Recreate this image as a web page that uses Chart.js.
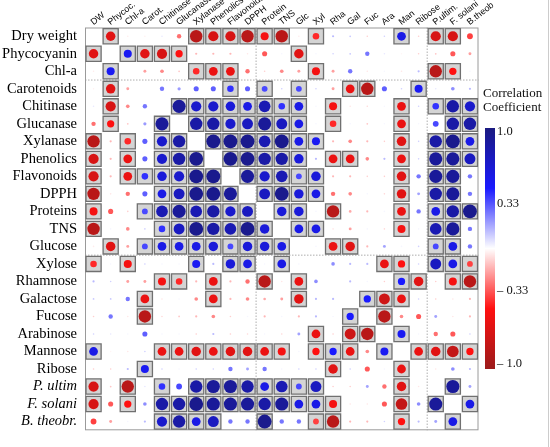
<!DOCTYPE html>
<html>
<head>
<meta charset="utf-8">
<script src="https://cdn.jsdelivr.net/npm/chart.js@4.4.1/dist/chart.umd.min.js"></script>
<style>
  html, body { margin: 0; padding: 0; background: #fff; }
  #wrap { position: relative; width: 550px; height: 447px; overflow: hidden; }
  #chart { position: absolute; left: 0; top: 0; }
  .cb-title { position: absolute; left: 483px; font: 13px "Liberation Serif", serif; color: #111; white-space: nowrap; }
  #cbar { position: absolute; left: 485px; top: 128px; width: 10px; height: 241px; }
  .cb-lbl { position: absolute; left: 497px; font: 12.5px "Liberation Serif", serif; color: #111; white-space: nowrap; }
  #edge { position: absolute; left: 548px; top: 0; width: 1px; height: 447px; background: #ccc; }
</style>
</head>
<body>
<div id="wrap">
  <canvas id="chart" width="550" height="447"></canvas>
  <div class="cb-title" style="top:85px">Correlation</div>
  <div class="cb-title" style="top:99px">Coefficient</div>
  <div id="cbar"></div>
  <div id="edge"></div>
</div>
<script>
// Row / column names
const rowLabels = ['Dry weight', 'Phycocyanin', 'Chl-a', 'Carotenoids', 'Chitinase', 'Glucanase',
  'Xylanase', 'Phenolics', 'Flavonoids', 'DPPH', 'Proteins', 'TNS', 'Glucose', 'Xylose',
  'Rhamnose', 'Galactose', 'Fucose', 'Arabinose', 'Mannose', 'Ribose',
  'P. ultim', 'F. solani', 'B. theobr.'];
const colLabels = ['DW', 'Phycoc.', 'Chl-a', 'Carot.', 'Chitinase', 'Glucanase', 'Xylanase',
  'Phenolics', 'Flavonoids', 'DPPH', 'Protein', 'TNS', 'Glc', 'Xyl', 'Rha', 'Gal', 'Fuc',
  'Ara', 'Man', 'Ribose', 'P.ultim.', 'F. solani', 'B.theob'];

// Upper triangle of the correlation matrix: row i holds columns i+1 .. 22
const upper = [
  [-0.65, -0.04, -0.03, 0.05, -0.3, -0.85, -0.7, -0.7, -0.85, -0.55, -0.85, -0.04, -0.45, 0.15, 0.12, -0.1, 0.1, 0.6, -0.1, -0.7, -0.7, -0.4],
  [0.55, -0.65, -0.7, -0.5, -0.15, -0.15, -0.15, -0.05, -0.35, 0.02, -0.65, 0.02, 0.1, 0.12, 0.3, 0.05, -0.02, -0.1, -0.12, -0.35, -0.2],
  [-0.2, -0.25, -0.12, -0.45, -0.6, -0.6, -0.3, -0.1, -0.25, -0.2, -0.55, -0.2, 0.3, -0.05, 0.02, -0.05, 0.15, -0.85, -0.5, 0.02],
  [0.3, 0.22, 0.35, 0.35, 0.45, 0.35, 0.4, 0.1, 0.4, 0.1, -0.2, -0.6, -0.85, 0.35, 0.1, 0.55, 0.05, 0.25, 0.15],
  [0.9, 0.7, 0.7, 0.65, 0.6, 0.8, 0.45, 0.6, 0.02, -0.55, -0.05, -0.08, 0.02, -0.6, 0.1, 0.45, 0.85, 0.7],
  [0.85, 0.85, 0.7, 0.75, 0.9, 0.75, 0.6, 0.02, -0.45, 0.02, -0.12, 0.02, -0.6, 0.02, 0.4, 0.85, 0.85],
  [0.95, 0.95, 0.95, 0.8, 0.95, 0.6, 0.55, -0.15, -0.25, -0.15, -0.1, -0.65, 0.1, 0.85, 0.95, 0.6],
  [0.95, 0.95, 0.85, 0.85, 0.65, 0.15, -0.6, -0.6, -0.25, 0.15, -0.6, 0.1, 0.9, 0.9, 0.75],
  [0.9, 0.7, 0.8, 0.4, 0.65, -0.15, -0.15, -0.1, -0.1, -0.65, 0.3, 0.9, 0.9, 0.3],
  [0.75, 0.95, 0.65, 0.6, -0.3, -0.25, 0.02, -0.08, -0.65, 0.2, 0.85, 0.9, 0.3],
  [0.65, 0.65, 0.02, -0.85, -0.18, -0.15, 0.02, -0.6, 0.3, 0.6, 0.85, 0.95],
  [0.6, 0.6, -0.05, -0.2, 0.02, -0.08, -0.55, 0.02, 0.8, 0.9, 0.3],
  [0.02, -0.6, -0.65, -0.15, 0.2, 0.02, 0.1, 0.4, 0.6, 0.3],
  [0.25, 0.15, 0.15, -0.6, -0.5, 0.1, 0.75, 0.6, -0.4],
  [0.15, 0.02, -0.1, 0.5, -0.65, -0.1, -0.55, -0.85],
  [0.5, -0.75, -0.6, 0.1, -0.1, -0.05, -0.15],
  [-0.85, -0.25, -0.35, 0.2, -0.05, -0.15],
  [0.55, 0.02, -0.3, -0.35, 0.1],
  [-0.6, -0.65, -0.8, -0.5],
  [-0.05, 0.25, 0.15],
  [0.9, 0.2],
  [0.6]
];

// Significance flags, same layout as upper (1 = boxed cell)
const signif = [
  [1, 0, 0, 0, 0, 1, 1, 1, 1, 1, 1, 0, 1, 0, 0, 0, 0, 1, 0, 1, 1, 0],
  [1, 1, 1, 1, 0, 0, 0, 0, 0, 0, 1, 0, 0, 0, 0, 0, 0, 0, 0, 0, 0],
  [0, 0, 0, 1, 1, 1, 0, 0, 0, 0, 1, 0, 0, 0, 0, 0, 0, 1, 1, 0],
  [0, 0, 0, 0, 1, 0, 1, 0, 1, 0, 0, 1, 1, 0, 0, 1, 0, 0, 0],
  [1, 1, 1, 1, 1, 1, 1, 1, 0, 1, 0, 0, 0, 1, 0, 1, 1, 1],
  [1, 1, 1, 1, 1, 1, 1, 0, 1, 0, 0, 0, 1, 0, 0, 1, 1],
  [1, 1, 1, 1, 1, 1, 1, 0, 0, 0, 0, 1, 0, 1, 1, 1],
  [1, 1, 1, 1, 1, 0, 1, 1, 0, 0, 1, 0, 1, 1, 1],
  [1, 1, 1, 1, 1, 0, 0, 0, 0, 1, 0, 1, 1, 0],
  [1, 1, 1, 1, 0, 0, 0, 0, 1, 0, 1, 1, 0],
  [1, 1, 0, 1, 0, 0, 0, 1, 0, 1, 1, 1],
  [1, 1, 0, 0, 0, 0, 1, 0, 1, 1, 0],
  [0, 1, 1, 0, 0, 0, 0, 1, 1, 0],
  [0, 0, 0, 1, 1, 0, 1, 1, 1],
  [0, 0, 0, 1, 1, 0, 1, 1],
  [1, 1, 1, 0, 0, 0, 0],
  [1, 0, 0, 0, 0, 0],
  [1, 0, 0, 0, 0],
  [1, 1, 1, 1],
  [0, 0, 0],
  [1, 0],
  [1]
];

// Colour bar
const colorStops = [
  [-1, [155, 27, 27]],
  [-0.5, [255, 16, 16]],
  [0, [255, 255, 255]],
  [0.5, [26, 26, 255]],
  [1, [26, 26, 128]]
];
const colorbarTicks = [
  { text: '1.0', top: 132 },
  { text: '0.33', top: 204 },
  { text: '\u2013 0.33', top: 291 },
  { text: '\u2013 1.0', top: 364 }
];
const hLines = [2.5, 12.5];   // dotted separators between rows
const vLines = [9.5, 19.5];   // dotted separators between columns

function corrColor(v) {
  for (let k = 1; k < colorStops.length; k++) {
    const [v1, c1] = colorStops[k];
    const [v0, c0] = colorStops[k - 1];
    if (v <= v1) {
      const t = (v - v0) / (v1 - v0);
      const c = c0.map((a, n) => Math.round(a + (c1[n] - a) * t));
      return `rgb(${c[0]},${c[1]},${c[2]})`;
    }
  }
  return 'rgb(26,26,128)';
}

// Build points for both halves of the matrix
const circles = [], boxes = [];
upper.forEach((row, i) => {
  row.forEach((v, k) => {
    const j = i + k + 1;
    const s = signif[i][k];
    [[j, i], [i, j]].forEach(([x, y]) => {
      circles.push({ x: x, y: y, v: v });
      if (s) boxes.push({ x: x, y: y });
    });
  });
});

// colour bar gradient
const cb = document.getElementById('cbar');
cb.style.background = 'linear-gradient(to top, ' +
  colorStops.map(s => `${corrColor(s[0])} ${(s[0] + 1) * 50}%`).join(', ') + ')';
colorbarTicks.forEach(t => {
  const d = document.createElement('div');
  d.className = 'cb-lbl';
  d.style.top = (t.top - 8) + 'px';
  d.textContent = t.text;
  document.getElementById('wrap').appendChild(d);
});

const framePlugin = {
  id: 'frame',
  beforeDatasetsDraw(chart) {
    const { ctx, chartArea: a, scales: { x, y } } = chart;
    ctx.save();
    ctx.strokeStyle = '#999';
    ctx.lineWidth = 0.8;
    ctx.setLineDash([1.5, 1.5]);
    hLines.forEach(v => {
      const py = y.getPixelForValue(v);
      ctx.beginPath(); ctx.moveTo(a.left, py); ctx.lineTo(a.right, py); ctx.stroke();
    });
    vLines.forEach(v => {
      const px = x.getPixelForValue(v);
      ctx.beginPath(); ctx.moveTo(px, a.top); ctx.lineTo(px, a.bottom); ctx.stroke();
    });
    ctx.setLineDash([]);
    ctx.lineWidth = 1;
    ctx.strokeStyle = '#9a9a9a';
    ctx.strokeRect(a.left + 0.5, a.top + 0.5, a.right - a.left - 1, a.bottom - a.top - 1);
    ctx.restore();
  }
};

new Chart(document.getElementById('chart'), {
  type: 'scatter',
  data: {
    datasets: [
      {
        data: circles,
        order: 1,
        pointRadius: circles.map(p => Math.max(0.8, Math.abs(p.v) * 7.3)),
        backgroundColor: circles.map(p => corrColor(p.v)),
        borderWidth: 0
      },
      {
        data: boxes,
        order: 2,
        pointStyle: 'rect',
        pointRadius: 10.7,
        backgroundColor: '#d4d4d4',
        borderColor: '#707070',
        borderWidth: 1.3
      }
    ]
  },
  options: {
    responsive: false,
    animation: false,
    events: [],
    layout: { padding: { left: 0, top: 0, right: 71.5, bottom: 4.4 } },
    plugins: { legend: { display: false }, tooltip: { enabled: false } },
    scales: {
      x: {
        type: 'linear',
        position: 'top',
        min: -0.5,
        max: 22.5,
        grid: { display: false, drawTicks: false },
        border: { display: false },
        afterBuildTicks: s => { s.ticks = colLabels.map((_, i) => ({ value: i })); },
        afterFit: s => { s.height = 27.5; },
        ticks: {
          autoSkip: false,
          minRotation: 38,
          maxRotation: 38,
          padding: 0,
          labelOffset: 5,
          color: '#000',
          font: { family: 'Liberation Sans', size: 9 },
          callback: v => colLabels[v]
        }
      },
      y: {
        type: 'linear',
        reverse: true,
        min: -0.5,
        max: 22.5,
        grid: { display: false, drawTicks: false },
        border: { display: false },
        afterBuildTicks: s => { s.ticks = rowLabels.map((_, i) => ({ value: i })); },
        afterFit: s => { s.width = 85; },
        ticks: {
          autoSkip: false,
          padding: 8,
          color: '#000',
          font: c => ({ family: 'Liberation Serif', size: 14.5, style: c.index >= 20 ? 'italic' : 'normal' }),
          callback: v => rowLabels[v]
        }
      }
    }
  },
  plugins: [framePlugin]
});
</script>
</body>
</html>
